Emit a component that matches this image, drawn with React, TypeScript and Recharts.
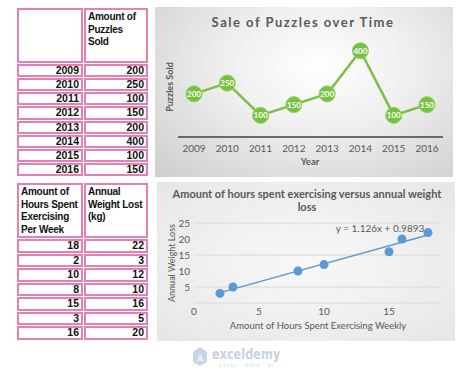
import { LineChart, Line, XAxis, YAxis, ScatterChart, Scatter, CartesianGrid, ReferenceLine } from "recharts";

const years = ["2009", "2010", "2011", "2012", "2013", "2014", "2015", "2016"];
const puzzlesSold = [200, 250, 100, 150, 200, 400, 100, 150];

const hoursPerWeek = [18, 2, 10, 8, 15, 3, 16];
const weightLost = [22, 3, 12, 10, 16, 5, 20];

const weightTicks = [0, 5, 10, 15, 20, 25];
const hourTicks = [0, 5, 10, 15];

const PINK = "#e77fb3";
const GREEN = "#77c043";
const BLUE = "#5b9bd5";
const GREY_TEXT = "#595959";
const CHART_FONT = "Lato, 'Open Sans', sans-serif";

const salesData = years.map((year, i) => ({ year, sold: puzzlesSold[i] }));
const exerciseData = hoursPerWeek.map((h, i) => ({ hours: h, lost: weightLost[i] }));

// least squares trendline, same as excel's linear trendline
function linearFit(xs: number[], ys: number[]) {
  const n = xs.length;
  const mx = xs.reduce((a, b) => a + b, 0) / n;
  const my = ys.reduce((a, b) => a + b, 0) / n;
  let sxy = 0;
  let sxx = 0;
  xs.forEach((x, i) => {
    sxy += (x - mx) * (ys[i] - my);
    sxx += (x - mx) * (x - mx);
  });
  const slope = sxy / sxx;
  return { slope, intercept: my - slope * mx };
}

const fit = linearFit(hoursPerWeek, weightLost);
const xMin = Math.min(...hoursPerWeek);
const xMax = Math.max(...hoursPerWeek);

function Cell({ left, top, width, height, align, header, children }: any) {
  return (
    <div
      style={{
        position: "absolute",
        left,
        top,
        width,
        height,
        boxSizing: "border-box",
        border: `2px solid ${PINK}`,
        padding: header ? "1px 0 0 2px" : "0 2px 0 2px",
        fontFamily: "'Liberation Sans', Arial, sans-serif",
        fontWeight: 700,
        fontSize: header ? 10 : 10.5,
        letterSpacing: header ? -0.25 : 0,
        lineHeight: header ? "12.5px" : `${height - 4}px`,
        color: "#111",
        textAlign: align,
        whiteSpace: "pre",
      }}
    >
      {children}
    </div>
  );
}

function DataTable({ top, header1, header2, col1, col2, rowH }: any) {
  const headH = 55;
  return (
    <>
      <Cell left={17} top={top} width={66} height={headH} align="left" header>{header1}</Cell>
      <Cell left={84} top={top} width={64} height={headH} align="left" header>{header2}</Cell>
      {col1.map((v: any, i: number) => (
        <div key={i}>
          <Cell left={17} top={top + headH + 1 + i * rowH} width={66} height={rowH - 1} align="right">{v}</Cell>
          <Cell left={84} top={top + headH + 1 + i * rowH} width={64} height={rowH - 1} align="right">{col2[i]}</Cell>
        </div>
      ))}
    </>
  );
}

function SalesDot(props: any) {
  const { cx, cy, value, index } = props;
  return (
    <g key={`dot-${index}`}>
      <circle cx={cx} cy={cy} r={8} fill={GREEN} stroke="#93d35c" strokeWidth={1} />
      <text x={cx} y={cy + 3} textAnchor="middle" fontSize={8} fontWeight={700} fill="#fff" fontFamily={CHART_FONT}>
        {value}
      </text>
    </g>
  );
}

function Label({ x, y, rotate, size, bold, children, spacing }: any) {
  return (
    <div
      style={{
        position: "absolute",
        left: x,
        top: y,
        transform: `translate(-50%, -50%)${rotate ? " rotate(-90deg)" : ""}`,
        whiteSpace: "nowrap",
        fontFamily: CHART_FONT,
        fontSize: size,
        fontWeight: bold ? 700 : 400,
        letterSpacing: spacing || 0,
        color: GREY_TEXT,
        lineHeight: 1.15,
        textAlign: "center",
      }}
    >
      {children}
    </div>
  );
}

export default function App() {
  return (
    <div style={{ position: "fixed", left: 0, top: 0, width: 474, height: 374, background: "#fff", overflow: "hidden" }}>
      <DataTable
        top={8}
        header1=""
        header2={"Amount of\nPuzzles\nSold"}
        col1={years}
        col2={puzzlesSold}
        rowH={14.15}
      />
      <DataTable
        top={183}
        header1={"Amount of\nHours Spent\nExercising\nPer Week"}
        header2={"Annual\nWeight Lost\n(kg)"}
        col1={hoursPerWeek}
        col2={weightLost}
        rowH={14.5}
      />

      {/* line chart */}
      <div
        style={{
          position: "absolute",
          left: 155,
          top: 7,
          width: 298,
          height: 170,
          background: "radial-gradient(ellipse at 55% 35%, #ffffff 0%, #efefef 40%, #cdcdcd 100%)",
        }}
      >
        <LineChart width={298} height={170} data={salesData} margin={{ top: 33, right: 10, bottom: 20, left: 23 }}>
          <XAxis
            dataKey="year"
            padding={{ left: 16, right: 16 }}
            axisLine={{ stroke: "#404040", strokeWidth: 1.5 }}
            tickLine={false}
            tickMargin={2}
            height={20}
            tick={{ fill: GREY_TEXT, fontSize: 10, fontFamily: CHART_FONT }}
          />
          <YAxis hide domain={[0, 450]} />
          <Line
            dataKey="sold"
            stroke={GREEN}
            strokeWidth={2.5}
            dot={SalesDot}
            activeDot={false}
            isAnimationActive={false}
          />
        </LineChart>
      </div>
      <Label x={303} y={22} size={13} bold spacing={1.5}>Sale of Puzzles over Time</Label>
      <Label x={170} y={87} size={9} bold rotate>Puzzles Sold</Label>
      <Label x={310} y={162} size={9.5} bold>Year</Label>

      {/* scatter chart */}
      <div
        style={{
          position: "absolute",
          left: 157,
          top: 182,
          width: 298,
          height: 159,
          background: "radial-gradient(ellipse at center, #f8f8f8 0%, #eeeeee 60%, #e6e6e6 100%)",
        }}
      >
        <ScatterChart width={298} height={159} margin={{ top: 41, right: 14, bottom: 18, left: 12 }}>
          <CartesianGrid vertical={false} stroke="#d9d9d9" />
          <XAxis
            type="number"
            dataKey="hours"
            domain={[0, 19]}
            ticks={hourTicks}
            axisLine={false}
            tickLine={false}
            tickSize={0}
            tickMargin={5}
            height={20}
            tick={{ fill: GREY_TEXT, fontSize: 10, fontFamily: CHART_FONT }}
          />
          <YAxis
            type="number"
            dataKey="lost"
            domain={[0, 25]}
            ticks={weightTicks}
            axisLine={false}
            tickLine={false}
            tickSize={0}
            tickMargin={4}
            width={25}
            tick={{ fill: GREY_TEXT, fontSize: 10, fontFamily: CHART_FONT }}
          />
          <ReferenceLine
            segment={[
              { x: xMin, y: fit.slope * xMin + fit.intercept },
              { x: xMax, y: fit.slope * xMax + fit.intercept },
            ]}
            stroke={BLUE}
            strokeWidth={1.5}
            ifOverflow="visible"
          />
          <Scatter
            data={exerciseData}
            isAnimationActive={false}
            shape={(p: any) => <circle cx={p.cx} cy={p.cy} r={4.5} fill={BLUE} />}
          />
        </ScatterChart>
      </div>
      <Label x={307} y={201} size={11} bold>
        Amount of hours spent exercising versus annual weight
        <br />
        loss
      </Label>
      <Label x={380} y={229} size={10}>
        {`y = ${fit.slope.toFixed(3)}x + ${fit.intercept.toFixed(4)}`}
      </Label>
      <Label x={172} y={263} size={9} rotate>Annual Weight Loss</Label>
      <Label x={318} y={326} size={9.5}>Amount of Hours Spent Exercising Weekly</Label>

      {/* watermark */}
      <svg style={{ position: "absolute", left: 188, top: 344 }} width={110} height={26}>
        <path d="M5 8 L12 3 L19 8 L19 18 L12 22 L5 18 Z" fill="#c9d4e6" />
        <path d="M9 17 L12 9 L16 17 Z" fill="#e9eef6" />
        <text x={24} y={15} fontSize={14} fontWeight={700} fill="#c7d2e5" fontFamily="'DejaVu Sans', sans-serif" textLength={68} lengthAdjust="spacingAndGlyphs">
          exceldemy
        </text>
        <text x={31} y={22.5} fontSize={4.5} fill="#cdd6e6" fontFamily="'DejaVu Sans', sans-serif" textLength={54}>
          EXCEL · DATA · BI
        </text>
      </svg>
    </div>
  );
}
